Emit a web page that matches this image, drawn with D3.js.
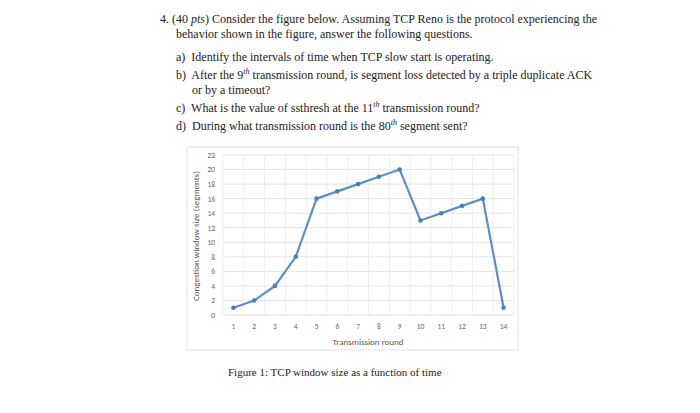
<!DOCTYPE html>
<html><head><meta charset="utf-8">
<script src="https://cdn.jsdelivr.net/npm/d3@7"></script>
<style>body{margin:0;background:#fff}svg{display:block}</style></head>
<body><svg id="c" width="700" height="413"></svg>
<script>
const rounds=[1,2,3,4,5,6,7,8,9,10,11,12,13,14];
const cwnd=[1,2,4,8,16,17,18,19,20,13,14,15,16,1];
const yTicks=[0,2,4,6,8,10,12,14,16,18,20,22];
const svg=d3.select("#c");
const serif="'Liberation Serif','DejaVu Serif',serif";
const sans="Calibri,Carlito,'Open Sans',sans-serif";
function t(x,y,s,sz){return svg.append("text").attr("x",x).attr("y",y).attr("font-family",serif).attr("font-size",sz||12).attr("fill","#222").html(s);}
t(160,23,"4. (40 <tspan font-style='italic'>pts</tspan>) Consider the figure below. Assuming TCP Reno is the protocol experiencing the");
t(176,38,"behavior shown in the figure, answer the following questions.");
t(176,61,"a)&#160; Identify the intervals of time when TCP slow start is operating.");
t(176,79,"b)&#160; After the 9<tspan dy='-5' font-size='8' font-style='italic'>th</tspan><tspan dy='5'> transmission round, is segment loss detected by a triple duplicate ACK</tspan>");
t(192,94,"or by a timeout?");
t(176,112,"c)&#160; What is the value of ssthresh at the 11<tspan dy='-5' font-size='8' font-style='italic'>th</tspan><tspan dy='5'> transmission round?</tspan>");
t(176,130,"d)&#160; During what transmission round is the 80<tspan dy='-5' font-size='8' font-style='italic'>th</tspan><tspan dy='5'> segment sent?</tspan>");
t(228,376,"Figure 1: TCP window size as a function of time",11);
svg.append("rect").attr("x",187).attr("y",147).attr("width",331).attr("height",203).attr("fill","none").attr("stroke","#e2e2e2");
const x=d3.scaleBand().domain(rounds).range([223,514]);
const y=d3.scaleLinear().domain([0,22]).range([315,155]);
const g=svg.append("g");
yTicks.forEach(v=>g.append("line").attr("x1",223).attr("x2",514).attr("y1",y(v)).attr("y2",y(v)).attr("stroke","#e4e4e4"));
rounds.concat([15]).forEach((r,i)=>{const xx=223+i*x.bandwidth();g.append("line").attr("x1",xx).attr("x2",xx).attr("y1",y(22)).attr("y2",y(0)).attr("stroke","#efefef");});
const ya=svg.append("g").attr("transform","translate(223,0)").call(d3.axisLeft(y).tickValues(yTicks).tickSize(0).tickPadding(8));
ya.select(".domain").remove();
ya.selectAll("text").attr("font-family",sans).attr("font-size",7.5).attr("fill","#666");
const xa=svg.append("g").attr("transform","translate(0,318)").call(d3.axisBottom(x).tickSize(0).tickPadding(6));
xa.select(".domain").remove();
xa.selectAll("text").attr("font-family",sans).attr("font-size",7.5).attr("fill","#666");
svg.append("text").attr("x",368).attr("y",345).attr("text-anchor","middle").attr("font-family",sans).attr("font-size",9).attr("fill","#555").text("Transmission round");
svg.append("text").attr("transform","translate(199,236) rotate(-90)").attr("text-anchor","middle").attr("font-family",sans).attr("font-size",9).attr("fill","#555").text("Congestion window size (segments)");
const line=d3.line().x((d,i)=>x(rounds[i])+x.bandwidth()/2).y(d=>y(d));
svg.append("path").datum(cwnd).attr("d",line).attr("fill","none").attr("stroke","#5b8fc7").attr("stroke-width",2.2);
svg.selectAll("circle").data(cwnd).join("circle").attr("cx",(d,i)=>x(rounds[i])+x.bandwidth()/2).attr("cy",d=>y(d)).attr("r",2.3).attr("fill","#4a7fb9");
</script></body></html>
